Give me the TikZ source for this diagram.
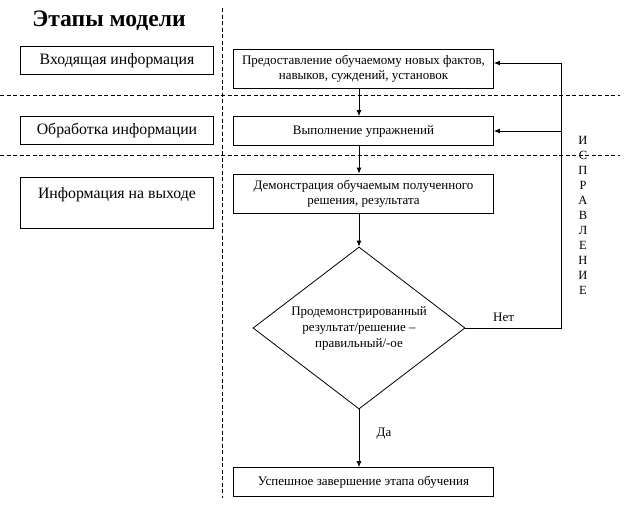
\documentclass[tikz,border=0pt]{standalone}
\usepackage{fontspec}
\setmainfont{Liberation Serif}
\usetikzlibrary{shapes,arrows,positioning,calc,arrows.meta}

\begin{document}
\begin{tikzpicture}[x=1pt,y=-1pt,
    stagebox/.style={draw, line width=0.8pt, minimum width=193pt, minimum height=28pt, inner sep=2pt, font=\fontsize{15.8}{17}\selectfont, align=center},
    stepbox/.style={draw, line width=0.8pt, minimum width=260pt, minimum height=29pt, inner sep=2pt, font=\fontsize{13}{15}\selectfont, align=center},
    arr/.style={-{Latex[length=6pt,width=5pt]}, line width=0.8pt},
    sep/.style={dashed, dash pattern=on 4pt off 2.5pt, line width=0.7pt}]
    \useasboundingbox (0,0) rectangle (637,522);

    % Title
    \node[font=\fontsize{23.6}{26}\selectfont\bfseries] (title) at (109,21) {Этапы модели};

    % Separators
    \draw[sep] (222,8) -- (222,498);
    \draw[sep] (0,95) -- (620,95);
    \draw[sep] (0,155) -- (620,155);

    % Stages
    \node[stagebox] (inL) at (117,60.5) {Входящая информация};
    \node[stagebox] (procL) at (117,130.5) {Обработка информации};
    \node[stagebox, minimum height=51pt] (outL) at (117,202.5) {Информация на выходе\\[2pt]~};

    % Steps
    \node[stepbox, minimum height=39pt] (facts) at (363.5,68.5) {Предоставление обучаемому новых фактов,\\навыков, суждений, установок};
    \node[stepbox] (exer) at (363.5,131) {Выполнение упражнений};
    \node[stepbox, minimum height=39pt] (demo) at (363.5,193.5) {Демонстрация обучаемым полученного\\решения, результата};
    \node[draw, line width=0.8pt, diamond, minimum width=212pt, minimum height=162pt, inner sep=0pt] (check) at (359,328) {};
    \node[font=\fontsize{13}{16}\selectfont, align=center] (checktext) at (check.center) {Продемонстрированный\\результат/решение --\\правильный/-ое};
    \node[stepbox] (done) at (363.5,482) {Успешное завершение этапа обучения};

    % Flow
    \draw[arr] (facts.south -| check.north) -- (exer.north -| check.north);
    \draw[arr] (exer.south -| check.north) -- (demo.north -| check.north);
    \draw[arr] (demo.south -| check.north) -- (check.north);
    \draw[arr] (check.south) -- (done.north -| check.south) node[pos=0.42, right=14pt, font=\fontsize{13}{14}\selectfont] {Да};

    % Correction loop
    \coordinate (back) at (561,63);
    \draw[line width=0.8pt] (check.east) -- (check.east -| back) node[pos=0.4, above=3pt, font=\fontsize{13}{14}\selectfont] {Нет} -- (back);
    \draw[arr] (back) -- (back -| facts.east);
    \draw[arr] (exer.east -| back) -- (exer.east);

    \node[font=\fontsize{12.5}{15}\selectfont, align=center] (fix) at (583,215) {И\\С\\П\\Р\\А\\В\\Л\\Е\\Н\\И\\Е};
\end{tikzpicture}
\end{document}
